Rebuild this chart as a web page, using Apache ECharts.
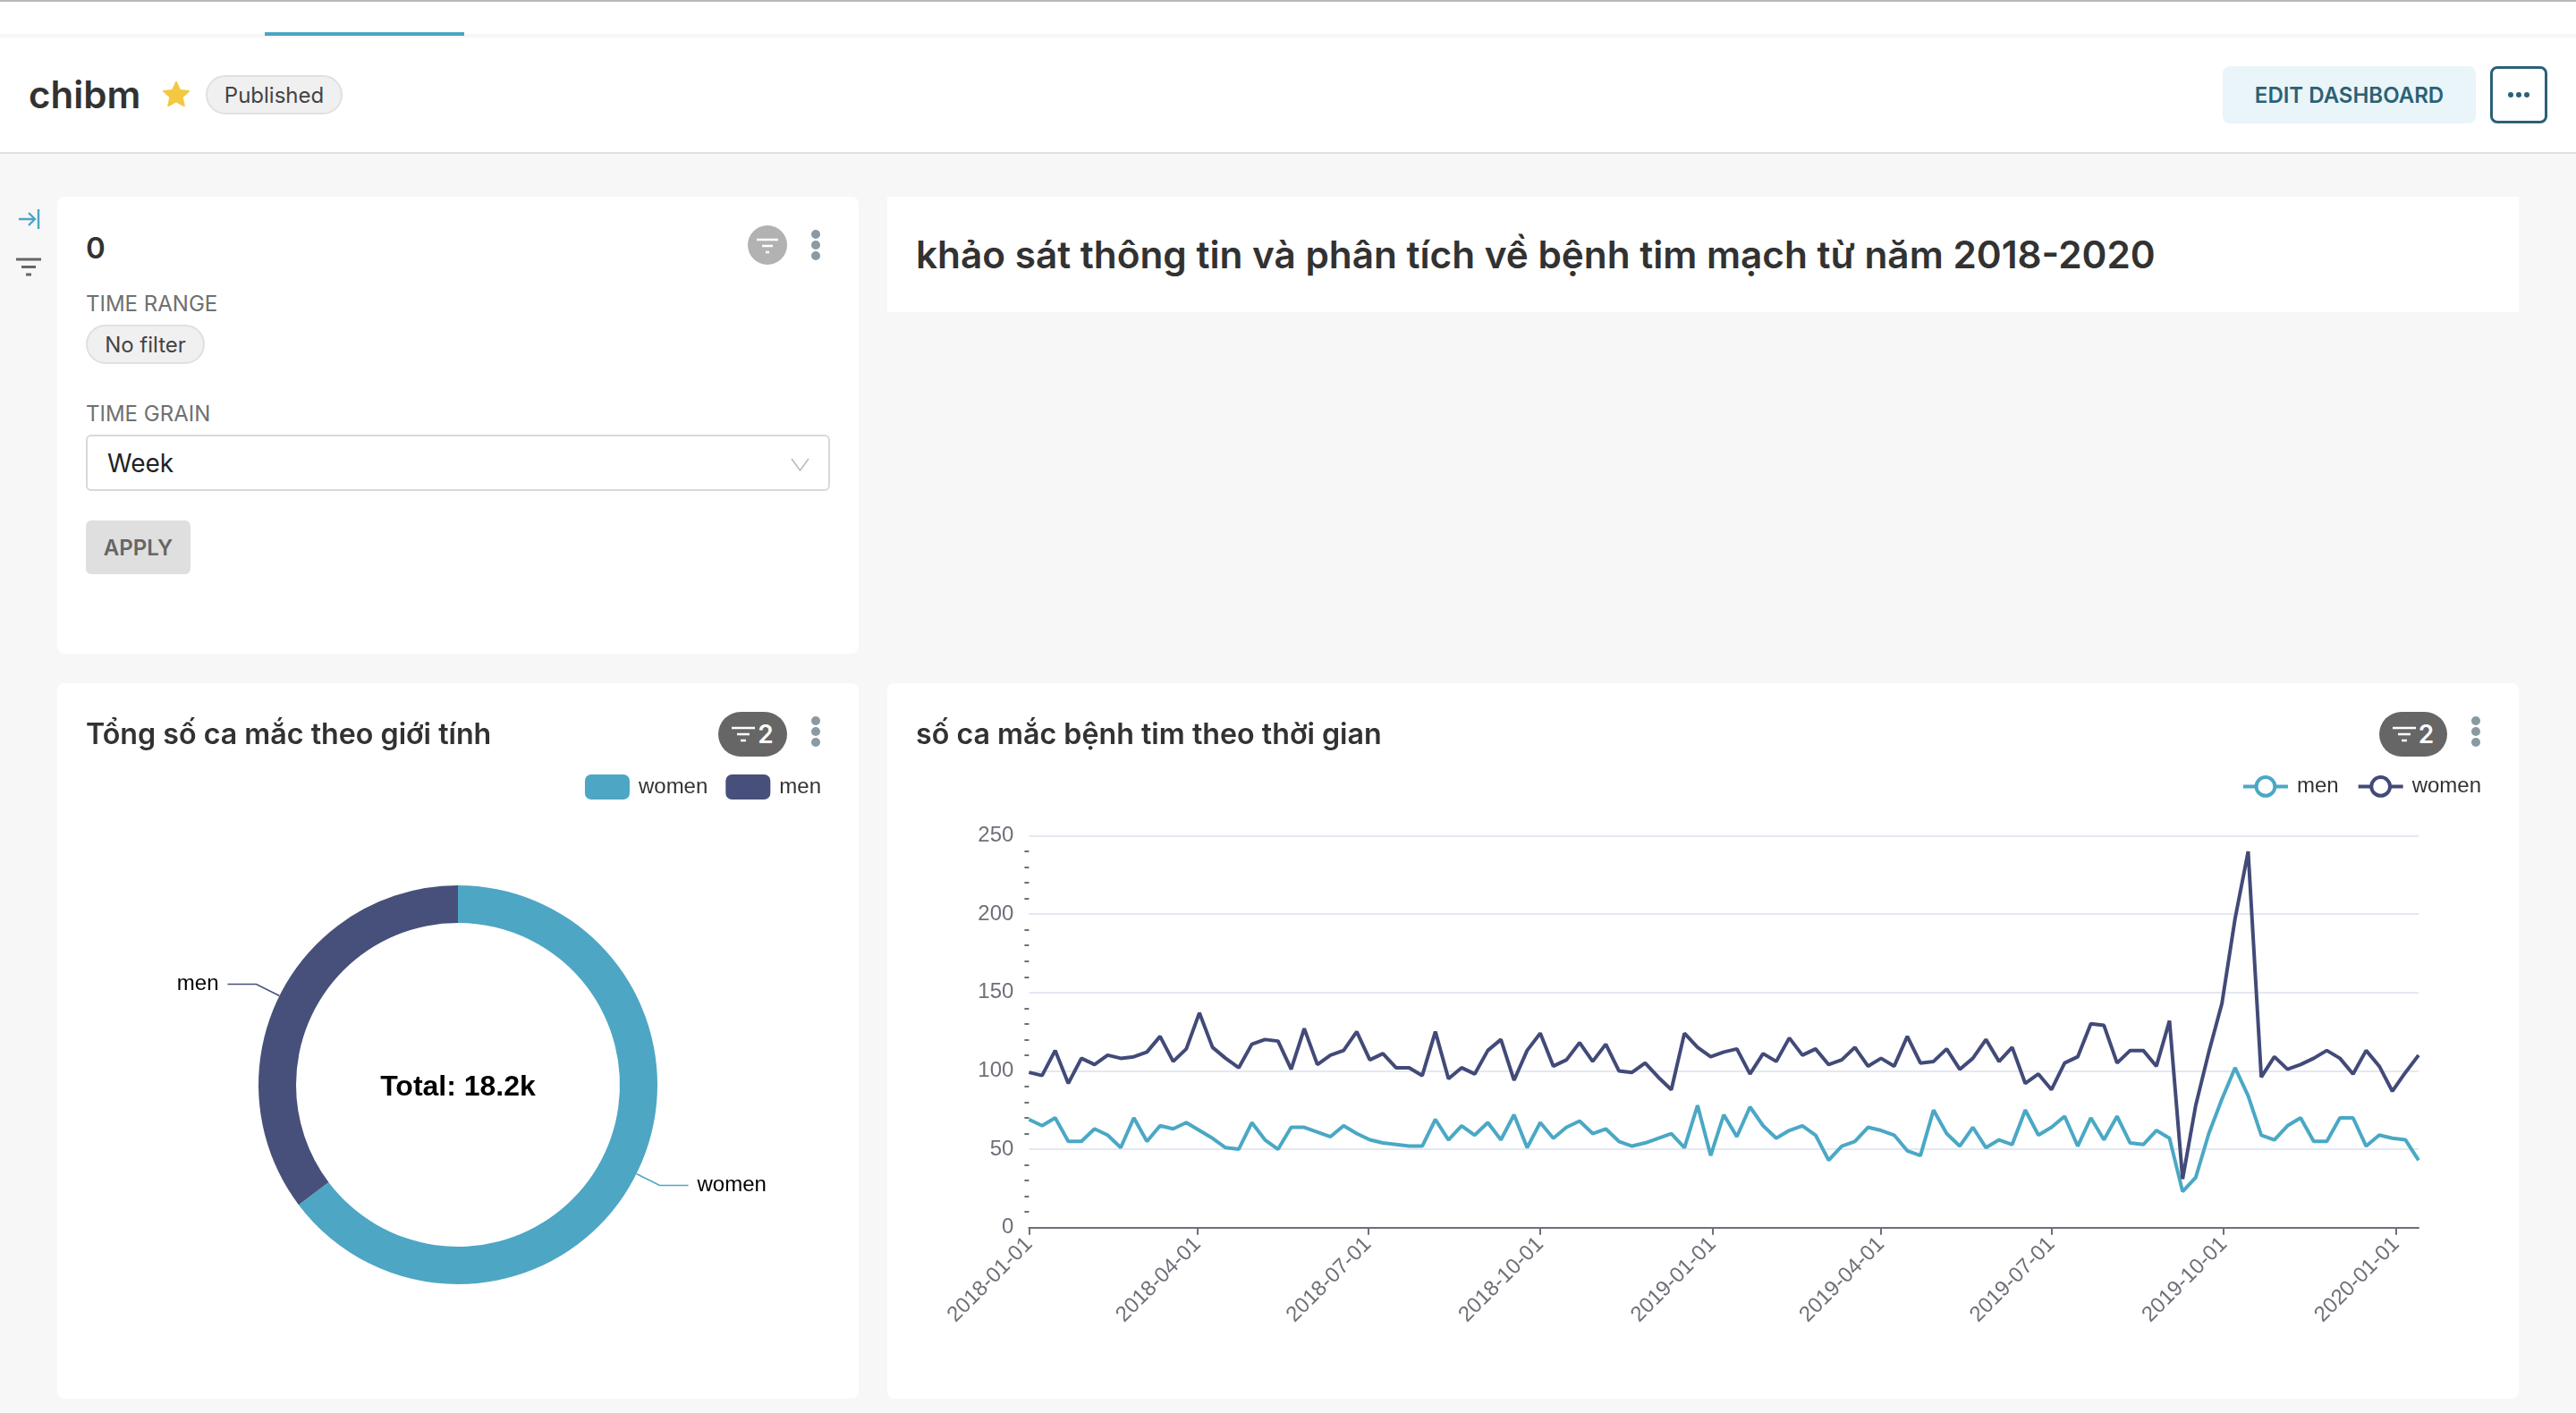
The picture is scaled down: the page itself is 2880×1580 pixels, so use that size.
<!DOCTYPE html>
<html>
<head>
<meta charset="utf-8">
<title>chibm</title>
<script src="https://cdn.jsdelivr.net/npm/echarts@6/dist/echarts.min.js"></script>
<style>
    html, body { margin: 0; padding: 0; background: #f7f7f7; }
    body { position: relative; width: 2880px; height: 1580px; overflow: hidden; font-family: Inter, "Noto Sans", sans-serif; color: #323232; }
    .box { position: absolute; box-sizing: border-box; }
    .txt { position: absolute; white-space: nowrap; line-height: 1; transform: translateY(-50%); }
    .card { position: absolute; background: #fff; border-radius: 8px; }
    .pill { position: absolute; box-sizing: border-box; background: #f0f0f0; border: 2px solid #e0e0e0; border-radius: 30px; display: flex; align-items: center; justify-content: center; font-size: 24px; color: #444; }
    .count { position: absolute; box-sizing: border-box; background: #666; border-radius: 25px; color: #fff; font-size: 28px; font-weight: 600; display: flex; align-items: center; justify-content: center; gap: 3px; }
    .dot { position: absolute; width: 10px; height: 10px; border-radius: 5px; background: #8a9aa3; }
    svg { position: absolute; }
    .chart { position: absolute; }
</style>
</head>
<body>

<!-- top bars -->
<div class="box" style="left:0;top:0;width:2880px;height:170px;background:#fff"></div>
<div class="box" style="left:0;top:0;width:2880px;height:2px;background:#b8b8b8"></div>
<div class="box" style="left:0;top:38px;width:2880px;height:4px;background:#f7f7f7"></div>
<div class="box" style="left:296px;top:36px;width:223px;height:4px;background:#4ba5c4"></div>
<div class="box" style="left:0;top:170px;width:2880px;height:2px;background:#e0e0e0"></div>

<div class="txt" style="left:32px;top:106px;font-size:42px;font-weight:600;color:#323232">chibm</div>
<svg style="left:180px;top:88px" width="34" height="34" viewBox="0 0 24 24"><path fill="#f5c842" stroke="#f5c842" stroke-width="1.200" stroke-linejoin="round" d="M12 2.500l3 6.500 7 .8-5.200 4.700 1.500 7L12 18l-6.300 3.500 1.500-7L2 9.800 9 9z"/></svg>
<div class="pill" style="left:230px;top:84px;width:153px;height:44px">Published</div>

<div class="box" style="left:2485px;top:74px;width:283px;height:64px;background:#e9f5f8;border-radius:8px;color:#2b6176;font-size:24px;font-weight:600;display:flex;align-items:center;justify-content:center">EDIT DASHBOARD</div>
<div class="box" style="left:2784px;top:74px;width:64px;height:64px;border:3px solid #2b6176;border-radius:8px"></div>
<div class="dot" style="left:2804px;top:103px;width:6px;height:6px;background:#2b6176"></div>
<div class="dot" style="left:2813px;top:103px;width:6px;height:6px;background:#2b6176"></div>
<div class="dot" style="left:2822px;top:103px;width:6px;height:6px;background:#2b6176"></div>

<!-- side icons -->
<svg style="left:18px;top:232px" width="28" height="26" viewBox="0 0 28 26"><path d="M3 13h17M14 6l7 7-7 7M25 2v22" fill="none" stroke="#4ba5c4" stroke-width="2.400"/></svg>
<svg style="left:18px;top:288px" width="28" height="22" viewBox="0 0 28 22"><path d="M0 2h28M6 10.500h16M11 19h6" fill="none" stroke="#666" stroke-width="3"/></svg>

<!-- filter card -->
<div class="card" style="left:64px;top:220px;width:896px;height:511px"></div>
<div class="txt" style="left:96px;top:277px;font-size:33px;font-weight:600">0</div>
<div class="box" style="left:836px;top:252px;width:44px;height:44px;border-radius:22px;background:#b2b2b2"></div>
<svg style="left:846px;top:266px" width="24" height="18" viewBox="0 0 24 18"><path d="M0 2h24M6 9h12M10 16h4" fill="none" stroke="#fff" stroke-width="2.400"/></svg>
<div class="dot" style="left:907px;top:257px"></div>
<div class="dot" style="left:907px;top:269px"></div>
<div class="dot" style="left:907px;top:281px"></div>
<div class="txt" style="left:96px;top:340px;font-size:24px;color:#707070">TIME RANGE</div>
<div class="pill" style="left:96px;top:363px;width:133px;height:44px">No filter</div>
<div class="txt" style="left:96px;top:463px;font-size:24px;color:#707070">TIME GRAIN</div>
<div class="box" style="left:96px;top:486px;width:832px;height:63px;background:#fff;border:2px solid #d9d9d9;border-radius:6px"></div>
<div class="txt" style="left:120px;top:518px;font-size:28px;color:#222">Week</div>
<svg style="left:884px;top:512px" width="21" height="15" viewBox="0 0 21 15"><path d="M1 1l9.500 13L20 1" fill="none" stroke="#bbb" stroke-width="1.600"/></svg>
<div class="box" style="left:96px;top:582px;width:117px;height:60px;background:#dfdfdf;border-radius:6px;color:#666;font-size:24px;font-weight:600;display:flex;align-items:center;justify-content:center">APPLY</div>

<!-- header card -->
<div class="box" style="left:992px;top:220px;width:1824px;height:129px;background:#fff"></div>
<div class="txt" style="left:1024px;top:285px;font-size:42.300px;font-weight:600">khảo sát thông tin và phân tích về bệnh tim mạch từ năm 2018-2020</div>

<!-- donut card -->
<div class="card" style="left:64px;top:764px;width:896px;height:800px"></div>
<div id="pieChart" class="chart" style="left:64px;top:764px;width:896px;height:800px"></div>
<div class="txt" style="left:96px;top:821px;font-size:32.200px;font-weight:600">Tổng số ca mắc theo giới tính</div>
<div class="count" style="left:803px;top:796px;width:77px;height:50px"><svg style="position:static" width="26" height="18" viewBox="0 0 26 18"><path d="M0 2h26M6 9h14M10 16h6" fill="none" stroke="#fff" stroke-width="2.400"/></svg>2</div>
<div class="dot" style="left:907px;top:801px"></div>
<div class="dot" style="left:907px;top:813px"></div>
<div class="dot" style="left:907px;top:825px"></div>

<!-- line card -->
<div class="card" style="left:992px;top:764px;width:1824px;height:800px"></div>
<div id="lineChart" class="chart" style="left:992px;top:764px;width:1824px;height:800px"></div>
<div class="txt" style="left:1024px;top:821px;font-size:32.200px;font-weight:600">số ca mắc bệnh tim theo thời gian</div>
<div class="count" style="left:2660px;top:796px;width:76px;height:50px"><svg style="position:static" width="26" height="18" viewBox="0 0 26 18"><path d="M0 2h26M6 9h14M10 16h6" fill="none" stroke="#fff" stroke-width="2.400"/></svg>2</div>
<div class="dot" style="left:2763px;top:801px"></div>
<div class="dot" style="left:2763px;top:813px"></div>
<div class="dot" style="left:2763px;top:825px"></div>

<script>
const pieNames = ['women', 'men'];
const pieValues = [11780, 6420];
const pieTotal = 'Total: 18.2k';

const weeks = [
    '2018-01-01', '2018-01-08', '2018-01-15', '2018-01-22', '2018-01-29', '2018-02-05', '2018-02-12', '2018-02-19', '2018-02-26',
    '2018-03-05', '2018-03-12', '2018-03-19', '2018-03-26', '2018-04-02', '2018-04-09', '2018-04-16', '2018-04-23', '2018-04-30',
    '2018-05-07', '2018-05-14', '2018-05-21', '2018-05-28', '2018-06-04', '2018-06-11', '2018-06-18', '2018-06-25', '2018-07-02',
    '2018-07-09', '2018-07-16', '2018-07-23', '2018-07-30', '2018-08-06', '2018-08-13', '2018-08-20', '2018-08-27', '2018-09-03',
    '2018-09-10', '2018-09-17', '2018-09-24', '2018-10-01', '2018-10-08', '2018-10-15', '2018-10-22', '2018-10-29', '2018-11-05',
    '2018-11-12', '2018-11-19', '2018-11-26', '2018-12-03', '2018-12-10', '2018-12-17', '2018-12-24', '2018-12-31', '2019-01-07',
    '2019-01-14', '2019-01-21', '2019-01-28', '2019-02-04', '2019-02-11', '2019-02-18', '2019-02-25', '2019-03-04', '2019-03-11',
    '2019-03-18', '2019-03-25', '2019-04-01', '2019-04-08', '2019-04-15', '2019-04-22', '2019-04-29', '2019-05-06', '2019-05-13',
    '2019-05-20', '2019-05-27', '2019-06-03', '2019-06-10', '2019-06-17', '2019-06-24', '2019-07-01', '2019-07-08', '2019-07-15',
    '2019-07-22', '2019-07-29', '2019-08-05', '2019-08-12', '2019-08-19', '2019-08-26', '2019-09-02', '2019-09-09', '2019-09-16',
    '2019-09-23', '2019-09-30', '2019-10-07', '2019-10-14', '2019-10-21', '2019-10-28', '2019-11-04', '2019-11-11', '2019-11-18',
    '2019-11-25', '2019-12-02', '2019-12-09', '2019-12-16', '2019-12-23', '2019-12-30', '2020-01-06', '2020-01-13'
];

const menValues = [
    69, 65, 70, 55, 55, 63, 59, 51, 70, 55, 65, 63, 67, 62, 57, 51, 50, 67, 56, 50,
    64, 64, 61, 58, 65, 60, 56, 54, 53, 52, 52, 69, 56, 65, 59, 67, 56, 72, 51, 67,
    57, 64, 68, 60, 63, 55, 52, 54, 57, 60, 51, 78, 46, 72, 58, 77, 65, 57, 62, 65,
    59, 43, 52, 55, 64, 62, 59, 49, 46, 75, 60, 52, 64, 51, 56, 53, 75, 59, 64, 71,
    52, 70, 56, 71, 54, 53, 62, 57, 23, 32, 60, 82, 102, 84, 59, 56, 65, 70, 55, 55,
    70, 70, 52, 59, 57, 56, 43
];
const womenValues = [
    99, 97, 113, 92, 108, 104, 110, 108, 109, 112, 122, 106, 114, 137, 115, 108, 102, 117, 120, 119,
    101, 127, 104, 110, 113, 125, 107, 111, 102, 102, 97, 125, 95, 102, 98, 113, 120, 94, 113, 124,
    103, 107, 118, 106, 117, 100, 99, 105, 96, 88, 124, 115, 109, 112, 114, 98, 111, 106, 121, 110,
    114, 104, 107, 115, 103, 108, 103, 122, 105, 106, 114, 101, 108, 120, 106, 115, 92, 98, 88, 105,
    109, 130, 129, 105, 113, 113, 103, 132, 31, 78, 112, 143, 197, 240, 96, 109, 101, 104, 108, 113,
    108, 98, 113, 103, 87, 99, 110
];

const xTickDates = ['2018-01-01', '2018-04-01', '2018-07-01', '2018-10-01', '2019-01-01', '2019-04-01', '2019-07-01', '2019-10-01', '2020-01-01'];
const yTicks = [0, 50, 100, 150, 200, 250];

const WOMEN_PIE = '#4da6c4';
const MEN_PIE = '#47507a';
const MEN_LINE = '#4aa8c5';
const WOMEN_LINE = '#424a78';
const FONT = '"Liberation Sans", Arial, sans-serif';
const AXIS_GREY = '#6e7079';

function toTime(s) {
    return new Date(s + 'T00:00:00').getTime();
}

const pieChart = echarts.init(document.getElementById('pieChart'), null, {renderer: 'canvas'});
pieChart.setOption({
    animation: false,
    color: [WOMEN_PIE, MEN_PIE],
    textStyle: {fontFamily: FONT},
    legend: {
        data: pieNames,
        top: 102,
        right: 42,
        padding: 0,
        itemWidth: 50,
        itemHeight: 28,
        itemGap: 20,
        icon: 'roundRect',
        textStyle: {fontSize: 24, color: '#333', fontFamily: FONT, padding: [0, 0, 0, 5]}
    },
    graphic: [{
        type: 'text',
        left: 'center',
        top: 436,
        style: {text: pieTotal, font: 'bold 32px ' + FONT, fill: '#000'}
    }],
    series: [{
        type: 'pie',
        center: [448, 449],
        radius: [181, 223],
        startAngle: 90,
        data: pieNames.map((name, i) => ({name: name, value: pieValues[i]})),
        label: {fontSize: 24, color: '#000', fontFamily: FONT, distanceToLabelLine: 10},
        labelLine: {length: 29, length2: 32, lineStyle: {width: 1.500}}
    }]
});

const lineChart = echarts.init(document.getElementById('lineChart'), null, {renderer: 'canvas'});
const xTickTimes = xTickDates.map(toTime);
lineChart.setOption({
    animation: false,
    color: [MEN_LINE, WOMEN_LINE],
    textStyle: {fontFamily: FONT},
    legend: {
        data: [
            // white fill and a thick ring, emptyCircle would force a 2px ring here
            {name: 'men', itemStyle: {color: '#fff', borderColor: MEN_LINE, borderWidth: 4}},
            {name: 'women', itemStyle: {color: '#fff', borderColor: WOMEN_LINE, borderWidth: 4}}
        ],
        top: 103,
        right: 42,
        padding: 0,
        itemWidth: 50,
        itemHeight: 26,
        itemGap: 20,
        lineStyle: {width: 4},
        textStyle: {fontSize: 24, color: '#333', fontFamily: FONT, padding: [0, 0, 0, 5]}
    },
    grid: {left: 158.400, right: 112, top: 170.500, bottom: 191.300},
    xAxis: {
        type: 'time',
        min: toTime(weeks[0]),
        max: toTime(weeks[weeks.length - 1]),
        boundaryGap: false,
        splitLine: {show: false},
        axisLine: {lineStyle: {color: AXIS_GREY, width: 2}},
        axisTick: {length: 8, customValues: xTickTimes, lineStyle: {color: AXIS_GREY, width: 2}},
        axisLabel: {
            customValues: xTickTimes,
            formatter: '{yyyy}-{MM}-{dd}',
            rotate: 45,
            margin: 15,
            fontSize: 24,
            color: AXIS_GREY,
            fontFamily: FONT
        }
    },
    yAxis: {
        type: 'value',
        min: yTicks[0],
        max: yTicks[yTicks.length - 1],
        interval: 50,
        axisLine: {show: false},
        axisTick: {show: false},
        minorTick: {show: true, splitNumber: 5, length: 5, lineStyle: {color: AXIS_GREY, width: 2}},
        splitLine: {lineStyle: {color: '#e6e7f3', width: 2}},
        axisLabel: {margin: 17, fontSize: 24, color: AXIS_GREY, fontFamily: FONT, padding: [4, 0, 0, 0]}
    },
    series: [
        {
            name: 'men',
            type: 'line',
            symbol: 'circle',
            showSymbol: false,
            lineStyle: {width: 4},
            data: weeks.map((d, i) => [d, menValues[i]])
        },
        {
            name: 'women',
            type: 'line',
            symbol: 'circle',
            showSymbol: false,
            lineStyle: {width: 4},
            data: weeks.map((d, i) => [d, womenValues[i]])
        }
    ]
});
</script>
</body>
</html>
